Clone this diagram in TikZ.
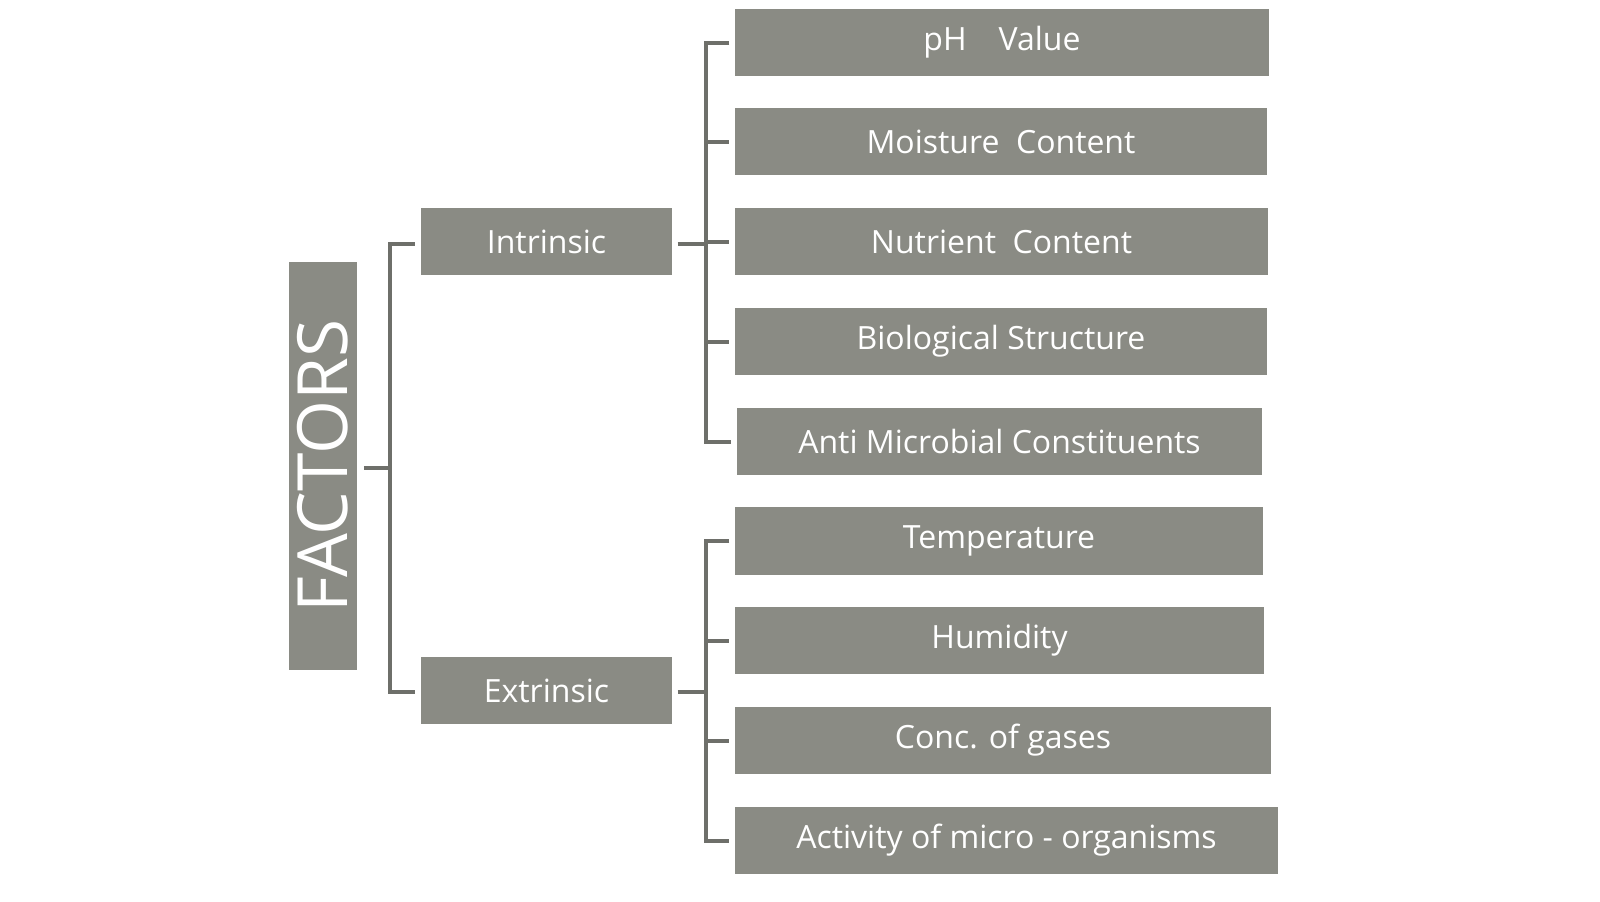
\documentclass[tikz,border=0pt]{standalone}
\usepackage{fontspec}
\setmainfont{Open Sans}
\begin{document}
\begin{tikzpicture}[x=0.75pt,y=-0.75pt,
  box/.style={fill=boxgray,draw=none,text=white,inner sep=0pt,font=\fontsize{24}{28}\selectfont},
  conn/.style={draw=linegray,line width=3pt}]
\definecolor{boxgray}{HTML}{8A8B84}
\definecolor{linegray}{HTML}{6E6F6A}
\useasboundingbox (0,0) rectangle (1600,901);
\newcommand{\bx}[6]{\node[box,minimum width=#4*0.75pt-#2*0.75pt,minimum height=#5*0.75pt-#3*0.75pt] (#1) at ({(#2+#4)/2},{(#3+#5)/2}) {#6};}
\node[box,minimum width=68*0.75pt,minimum height=408*0.75pt] (f) at (323,466) {};
\node[text=white,rotate=90,font=\fontsize{52}{56}\selectfont] (ft) at (f) {FACTORS};
\bx{in}{421}{208}{672}{275}{Intrinsic}
\bx{ex}{421}{657}{672}{724}{Extrinsic}
\bx{a1}{735}{9}{1269}{76}{pH\hspace{1em}Value}
\bx{a2}{735}{108}{1267}{175}{Moisture\ \ Content}
\bx{a3}{735}{208}{1268}{275}{Nutrient\ \ Content}
\bx{a4}{735}{308}{1267}{375}{Biological Structure}
\bx{a5}{737}{408}{1262}{475}{Anti Microbial Constituents}
\bx{b1}{735}{507}{1263}{575}{Temperature}
\bx{b2}{735}{607}{1264}{674}{Humidity}
\bx{b3}{735}{707}{1271}{774}{Conc. of gases}
\bx{b4}{735}{807}{1278}{874}{Activity of micro - organisms}
\coordinate (fj) at (390,468);
\coordinate (ij) at (706,244);
\coordinate (ej) at (706,692);
\draw[conn] ([xshift=5pt]f.east |- fj) -- (fj);
\draw[conn] (in.west |- 0,244) ++(-6,0) -| (fj) |- ([xshift=-4.5pt]ex.west |- 0,692);
\draw[conn] ([xshift=4pt]in.east |- ij) -- (ij);
\draw[conn] ([xshift=-4pt]a1.west) -| (ij) |- ([xshift=-4pt]a5.west);
\foreach \n in {a2,a3,a4} \draw[conn] (ij |- \n.west) -- ([xshift=-4pt]\n.west);
\draw[conn] ([xshift=4pt]ex.east |- ej) -- (ej);
\draw[conn] ([xshift=-4pt]b1.west) -| (ej) |- ([xshift=-4pt]b4.west);
\foreach \n in {b2,b3} \draw[conn] (ej |- \n.west) -- ([xshift=-4pt]\n.west);
\end{tikzpicture}
\end{document}
